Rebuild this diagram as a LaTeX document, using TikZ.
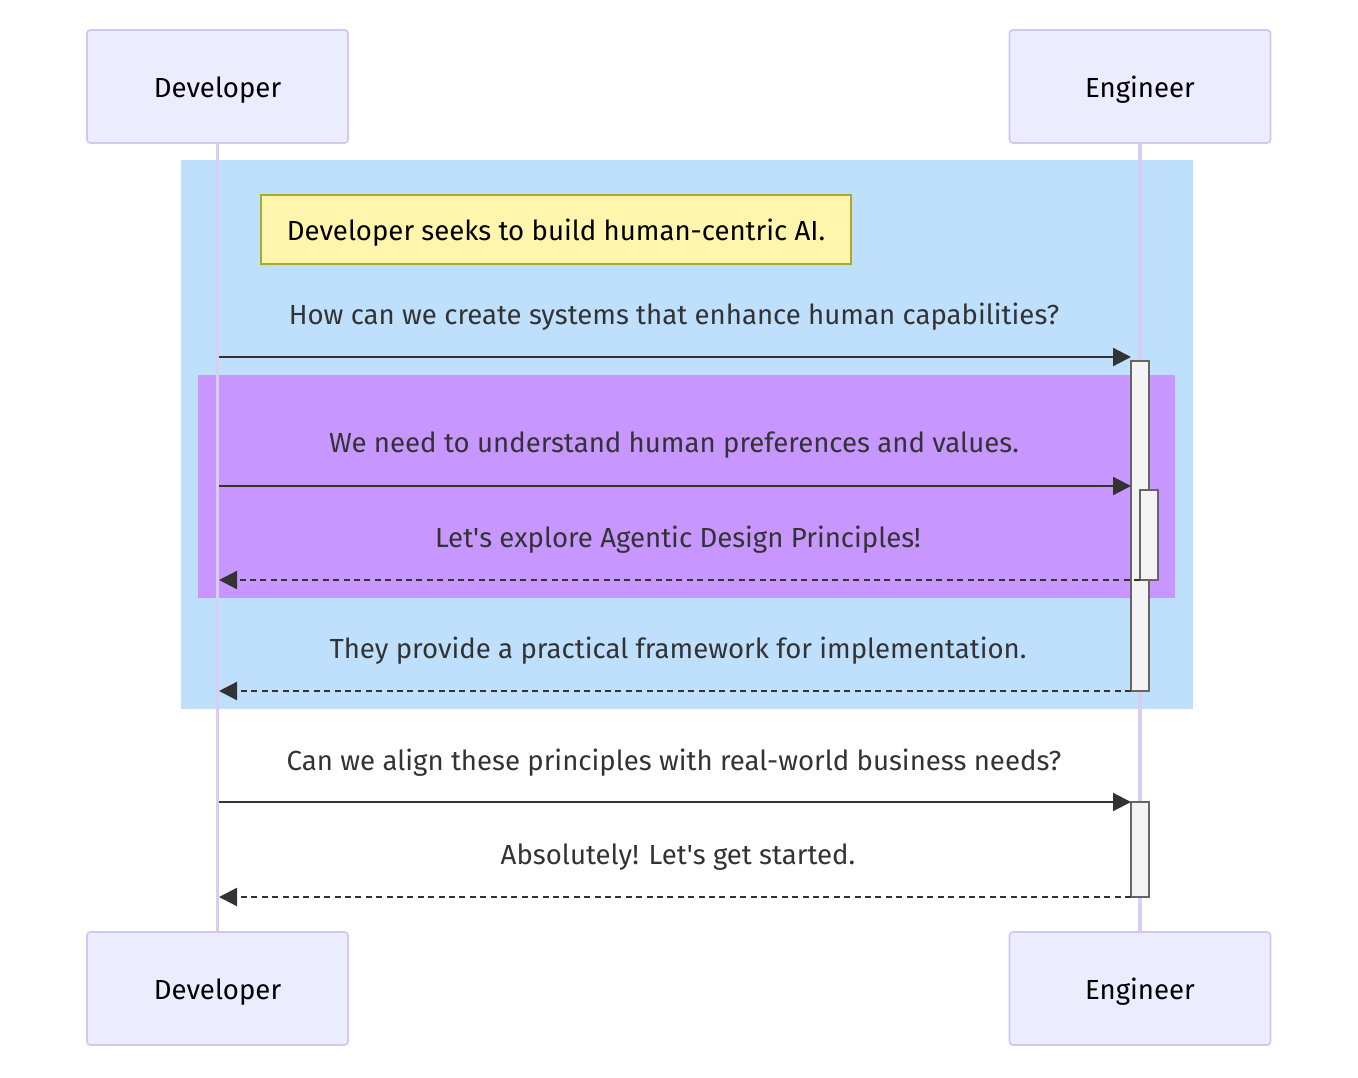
\documentclass[tikz,border=0pt]{standalone}
\usepackage{fontspec}
\setmainfont{Fira Sans}
\usetikzlibrary{arrows.meta}
\definecolor{actorfill}{HTML}{ECECFF}
\definecolor{actorline}{HTML}{D3C6F2}
\definecolor{lifeline}{HTML}{D9CCF5}
\definecolor{loopblue}{HTML}{BFE0FD}
\definecolor{looppurple}{HTML}{C896FF}
\definecolor{notefill}{HTML}{FFF5AD}
\definecolor{noteline}{HTML}{AAAA33}
\definecolor{msg}{HTML}{333333}
\definecolor{actfill}{HTML}{F4F4F4}
\definecolor{actline}{HTML}{666666}
\tikzset{
  actor/.style={draw=actorline, fill=actorfill, line width=1.2pt, rounded corners=2.5pt,
    minimum width=195.75pt, minimum height=84.75pt, inner sep=0pt,
    text height=19.5pt, text depth=2.5pt,
    font=\fontsize{20.7pt}{24pt}\selectfont, text=black},
  lifel/.style={draw=lifeline, line width=2.4pt},
  notebox/.style={draw=noteline, fill=notefill, line width=1pt,
    minimum width=442.5pt, minimum height=51.75pt, inner sep=0pt,
    text height=18.5pt, text depth=2.5pt,
    font=\fontsize{20.7pt}{24pt}\selectfont, text=black},
  msgtext/.style={font=\fontsize{20.7pt}{24pt}\selectfont, text=msg, inner sep=0pt},
  actbar/.style={draw=actline, fill=actfill, line width=1.3pt, minimum width=13.5pt, inner sep=0pt},
  solidmsg/.style={draw=msg, line width=1.6pt, -{Triangle[length=13.5pt,width=13.5pt]}},
  dashmsg/.style={draw=msg, line width=1.7pt, dash pattern=on 4.5pt off 3.3pt, -{Triangle[length=13.5pt,width=13.5pt]}},
}
\begin{document}
\begin{tikzpicture}[x=0.75pt,y=-0.75pt]
\useasboundingbox[fill=white] (0,0) rectangle (1358,1077);
% loop / region backgrounds
\fill[loopblue] (181,160) rectangle (1193,709);
\fill[looppurple] (198,375) rectangle (1175,598);
% lifelines
\draw[lifel] (217.5,143) -- (217.5,932);
\draw[lifel] (1140,143) -- (1140,932);
% actors
\node[actor] (devtop) at (217.5,86.5) {Developer};
\node[actor] (engtop) at (1140,86.5) {Engineer};
\node[actor] (devbot) at (217.5,988.5) {Developer};
\node[actor] (engbot) at (1140,988.5) {Engineer};
% note
\node[notebox] (note) at (556,229.5) {Developer seeks to build human-centric AI.};
% activation bars
\node[actbar, minimum height=247.5pt] (act1) at (1140,526) {};
\node[actbar, minimum height=67.5pt] (act2) at (1149,535) {};
\node[actbar, minimum height=71.25pt] (act3) at (1140,849.5) {};
% endpoints
\coordinate (d1) at (219,357); \coordinate (e1) at (1131,357);
\coordinate (d2) at (219,486); \coordinate (e2) at (1131,486);
\coordinate (d3) at (219,580); \coordinate (e3) at (1140,580);
\coordinate (d4) at (219,691); \coordinate (e4) at (1131,691);
\coordinate (d5) at (219,802); \coordinate (e5) at (1131,802);
\coordinate (d6) at (219,897); \coordinate (e6) at (1131,897);
% messages
\node[msgtext] (t1) at (674,317) {How can we create systems that enhance human capabilities?};
\draw[solidmsg] (d1) -- (e1);
\node[msgtext] (t2) at (674,445) {We need to understand human preferences and values.};
\draw[solidmsg] (d2) -- (e2);
\node[msgtext] (t3) at (678,540) {Let\textquotesingle s explore Agentic Design Principles!};
\draw[dashmsg] (e3) -- (d3);
\node[msgtext] (t4) at (678,651) {They provide a practical framework for implementation.};
\draw[dashmsg] (e4) -- (d4);
\node[msgtext] (t5) at (674,763) {Can we align these principles with real-world business needs?};
\draw[solidmsg] (d5) -- (e5);
\node[msgtext] (t6) at (678,857) {Absolutely! Let\textquotesingle s get started.};
\draw[dashmsg] (e6) -- (d6);
\end{tikzpicture}
\end{document}
